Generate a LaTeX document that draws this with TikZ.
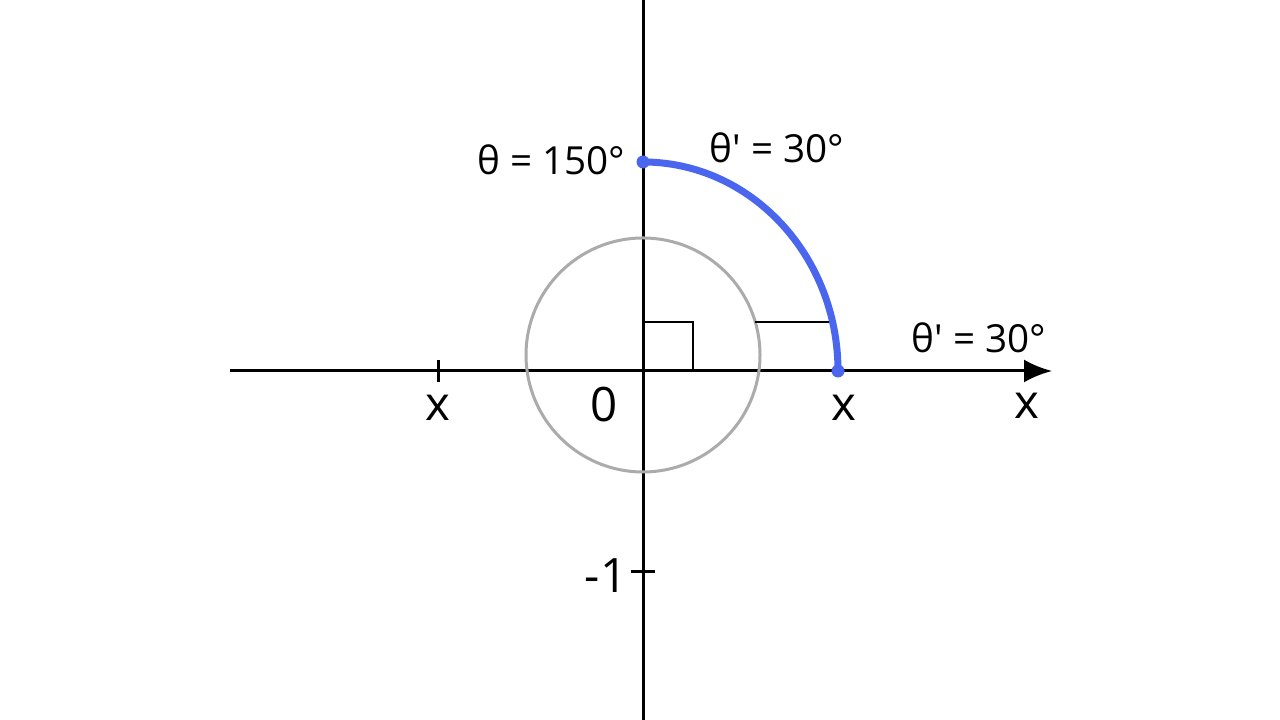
\documentclass[tikz,border=0pt]{standalone}
\usepackage{fontspec}
\setmainfont{Open Sans}
\usepackage{tikz}
\usetikzlibrary{arrows.meta, positioning, calc}
\definecolor{arcblue}{HTML}{4A66EE}
\definecolor{circgray}{HTML}{ABABAB}

\begin{document}
\begin{tikzpicture}[>={Latex[length=2.8mm,width=2.3mm]}, line width=0.03cm,
    lbl/.style={inner sep=0pt, font=\fontsize{11}{13}\selectfont},
    axlbl/.style={inner sep=0pt, font=\fontsize{13.5}{16}\selectfont},
    thin line/.style={line width=0.02cm}]
    \useasboundingbox (-6.43,-3.49) rectangle (6.37,3.71);

    % axes
    \coordinate (O) at (0,0);
    \coordinate (xmin) at (-4.13,0);
    \coordinate (xmax) at (4.09,0);
    \coordinate (ymin) at (0,-3.49);
    \coordinate (ymax) at (0,3.71);
    \draw[->] (xmin) -- (xmax);
    \draw (ymin) -- (ymax);

    % ticks
    \draw (-2.05,-0.11) -- (-2.05,0.11);
    \draw (-0.12,-2.01) -- (0.12,-2.01);

    % unit circle
    \node (circ) [draw=circgray, circle, minimum size=2.34cm, inner sep=0pt] at (0,0.16) {};

    % right angle marks
    \draw[thin line] (0,0.49) -- (0.50,0.49) -- (0.50,0);
    \coordinate (hl) at (1.12,0.49);
    \coordinate (hr) at (1.895,0.49);
    \draw[thin line] (hl) -- (hr);

    % arc
    \coordinate (pstart) at (1.95,0);
    \coordinate (pend) at (0,2.09);
    \draw[arcblue, line width=0.07cm] (pstart) arc[start angle=0, end angle=90, x radius=1.95, y radius=2.09];
    \fill[arcblue] (pstart) circle (0.065);
    \fill[arcblue] (pend) circle (0.065);

    % labels
    \node (theta) [lbl, anchor=east] at (-0.16,2.11) {θ = 150°};
    \node (thetatop) [lbl] at (1.34,2.23) {θ\textquotesingle{} = 30°};
    \node (thetaright) [lbl] at (3.36,0.33) {θ\textquotesingle{} = 30°};
    \node (xneg) [axlbl] at (-2.05,-0.37) {x};
    \node (zero) [axlbl] at (-0.39,-0.34) {0};
    \node (xpos) [axlbl] at (2.01,-0.37) {x};
    \node (xaxis) [axlbl] at (3.84,-0.35) {x};
    \node (mone) [axlbl] at (-0.37,-2.05) {-1};
\end{tikzpicture}
\end{document}
